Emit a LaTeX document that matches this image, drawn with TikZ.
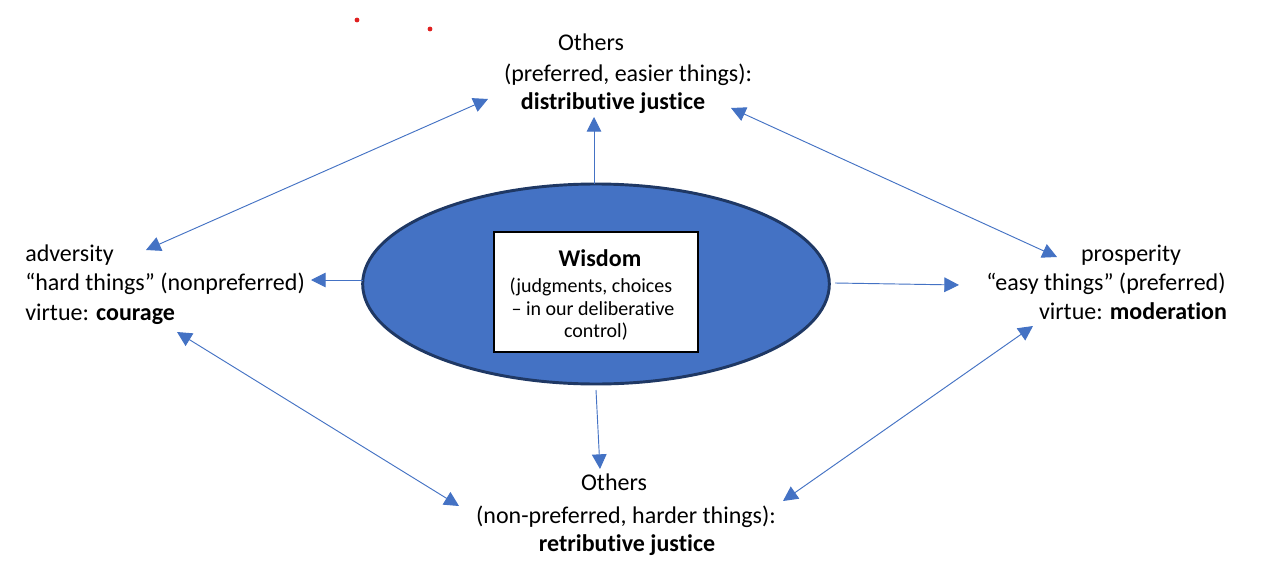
\documentclass[tikz,border=0pt]{standalone}
\usepackage{fontspec}
\setmainfont[Ligatures=NoCommon]{Carlito}
\usetikzlibrary{arrows.meta,shapes.geometric}
\definecolor{obl}{HTML}{4472C4}
\definecolor{odk}{HTML}{1F3864}
\definecolor{dotred}{HTML}{E02020}
\begin{document}
\begin{tikzpicture}[x=0.75pt,y=-0.75pt,
  lbl/.style={inner sep=0pt, anchor=mid, font=\fontsize{18}{22.5}\selectfont},
  ilbl/.style={inner sep=0pt, anchor=mid, font=\fontsize{15}{17}\selectfont},
  conn/.style={draw=obl, color=obl, line width=0.7pt, -{Triangle[length=11pt,width=11pt]}},
  dconn/.style={draw=obl, color=obl, line width=0.7pt, {Triangle[length=11pt,width=11pt]}-{Triangle[length=11pt,width=11pt]}}]
\useasboundingbox (0,0) rectangle (1268,578);
\fill[white] (0,0) rectangle (1268,578);
% red dots
\fill[dotred] (357,20) circle (1.8pt);
\fill[dotred] (430,29) circle (1.8pt);
% ellipse and box
\node[ellipse, draw=odk, line width=2.2pt, fill=obl, minimum width=350pt, minimum height=150pt, inner sep=0pt] (wis) at (596,284) {};
\node[draw=black, line width=1.3pt, fill=white, minimum width=153pt, minimum height=90pt, inner sep=0pt] (box) at (596,292) {};
\node[inner sep=0pt, anchor=mid, font=\fontsize{18}{22}\selectfont\bfseries] (w1) at (600,263) {Wisdom};
\node[ilbl] (w2) at (591,289) {(judgments, choices};
\node[ilbl] (w3) at (593,312) {– in our deliberative};
\node[ilbl] (w4) at (596,334) {control)};
% top
\node[lbl] (t1) at (591,47) {Others};
\node[lbl] (t2) at (628,78) {(preferred, easier things):};
\node[lbl, font=\fontsize{18}{22.5}\selectfont\bfseries] (t3) at (613,106) {distributive justice};
% left
\node[lbl, anchor=mid west] (l1) at (25,258) {adversity};
\node[lbl, anchor=mid west] (l2) at (25,287) {“hard things” (nonpreferred)};
\node[lbl, anchor=mid west] (l3) at (25,317) {virtue: \textbf{courage}};
% right
\node[lbl] (r1) at (1131,258) {prosperity};
\node[lbl] (r2) at (1106,287) {“easy things” (preferred)};
\node[lbl] (r3) at (1133,316) {virtue: \textbf{moderation}};
% bottom
\node[lbl] (b1) at (614,487) {Others};
\node[lbl] (b2) at (626,520) {(non-preferred, harder things):};
\node[lbl, font=\fontsize{18}{22.5}\selectfont\bfseries] (b3) at (627,548) {retributive justice};
% arrow end coordinates
\coordinate (aT) at (594,117);
\coordinate (aL) at (311,280);
\coordinate (aR) at (959,285);
\coordinate (aB) at (600,469);
\coordinate (cTL1) at (488,99);
\coordinate (cTL2) at (146,250);
\coordinate (cTR1) at (731,108);
\coordinate (cTR2) at (1057,257);
\coordinate (cLB1) at (177,332);
\coordinate (cLB2) at (459,506);
\coordinate (cRB1) at (1033,326);
\coordinate (cRB2) at (783,501);
\coordinate (sT) at (594,184);
\coordinate (sL) at (363,280);
\coordinate (sR) at (835,283);
\coordinate (sB) at (596,390);
% connectors
\draw[conn] (sT) -- (aT);
\draw[conn] (sL) -- (aL);
\draw[conn] (sR) -- (aR);
\draw[conn] (sB) -- (aB);
\draw[dconn] (cTL1) -- (cTL2);
\draw[dconn] (cTR1) -- (cTR2);
\draw[dconn] (cLB1) -- (cLB2);
\draw[dconn] (cRB1) -- (cRB2);
\end{tikzpicture}
\end{document}
